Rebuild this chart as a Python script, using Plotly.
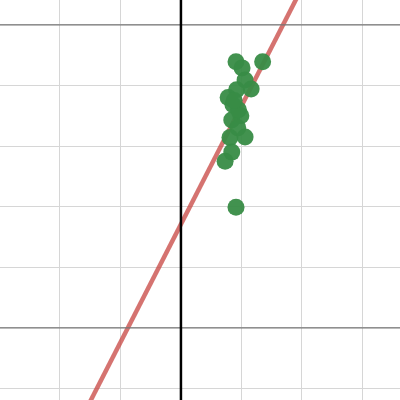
import plotly.graph_objects as go

# scatter points
xs = [0.91, 1.35, 1.01, 1.06, 0.92, 1.16, 0.78, 0.86, 0.99, 0.84, 0.94, 0.81, 1.06, 0.84, 0.73, 0.91, 0.95, 0.88]
ys = [9.39, 9.39, 9.29, 9.09, 8.93, 8.94, 8.80, 8.68, 8.50, 8.43, 8.30, 8.14, 8.15, 7.90, 7.75, 6.99, 8.60, 8.75]

# fitted line endpoints in data units
line_x = [-3.0, 3.6]
slope, intercept = 1.95, 6.71
line_y = [slope * v + intercept for v in line_x]

fig = go.Figure()
fig.add_trace(go.Scatter(x=line_x, y=line_y, mode='lines',
                         line=dict(color='rgba(199,68,64,0.75)', width=4.5)))
fig.add_trace(go.Scatter(x=xs, y=ys, mode='markers',
                         marker=dict(color='rgba(56,140,70,0.95)', size=17)))

# major grid lines
shapes = [dict(type='line', xref='x', yref='y', x0=-3, x1=3.7, y0=v, y1=v,
               line=dict(color='#777', width=1.2)) for v in [5, 10]]
shapes.append(dict(type='line', xref='x', yref='y', x0=0, x1=0, y0=3, y1=11,
                   line=dict(color='black', width=2.5)))

fig.update_layout(
    width=400, height=400, margin=dict(l=0, r=0, t=0, b=0),
    plot_bgcolor='white', paper_bgcolor='white', showlegend=False,
    shapes=shapes,
    xaxis=dict(range=[-2.99, 3.62], dtick=1, showgrid=True, gridcolor='#d6d6d6',
               zeroline=False, showticklabels=False, fixedrange=True),
    yaxis=dict(range=[3.81, 10.41], dtick=1, showgrid=True, gridcolor='#d6d6d6',
               zeroline=False, showticklabels=False, fixedrange=True),
)
fig.write_html("out.html", config={'displayModeBar': False},
               post_script="document.body.style.margin='0';document.body.style.overflow='hidden';")
